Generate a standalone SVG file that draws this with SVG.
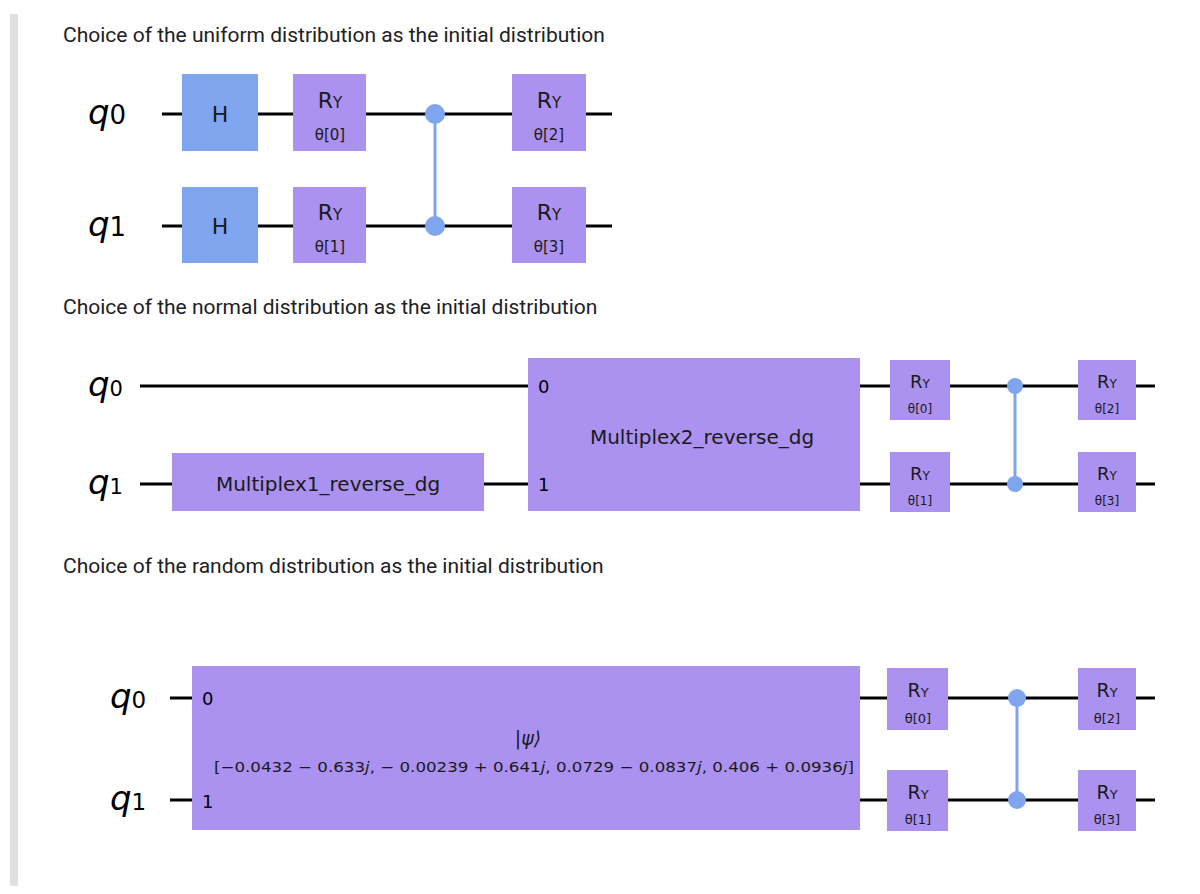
<svg xmlns="http://www.w3.org/2000/svg" width="1200" height="894" viewBox="0 0 1200 894">
<style>
.t{font-family:Roboto,"Liberation Sans",sans-serif;font-size:21px;fill:#202124}
.w{stroke:#000;stroke-width:3;fill:none}
.h{fill:#7fa5ef}
.r{fill:#ab91f0}
.g{font-family:"DejaVu Sans",sans-serif;fill:#1a1a1a;text-anchor:middle}
.q{font-family:"DejaVu Sans",sans-serif;font-style:italic;font-size:34px;fill:#000}
.s{font-family:"DejaVu Sans",sans-serif;font-size:18px;fill:#000}
.c{stroke:#7fa5ef;stroke-width:3}
.d{fill:#7fa5ef}
</style>
<rect x="0" y="0" width="1200" height="894" fill="#fff"/>
<rect x="10" y="14" width="8" height="872" fill="#e0e0e0"/>
<text class="t" x="63" y="42">Choice of the uniform distribution as the initial distribution</text>
<text class="t" x="63" y="314">Choice of the normal distribution as the initial distribution</text>
<text class="t" x="63" y="573">Choice of the random distribution as the initial distribution</text>
<g id="connectors">
<path class="w" d="M162 114H612M162 226H612"/>
<path class="w" d="M140 386H528M140 484H528M860 386H1155M860 484H1155"/>
<path class="w" d="M170 698H192M170 800H192M860 698H1155M860 800H1155"/>
<line class="c" x1="435" y1="114" x2="435" y2="226"/>
<line class="c" x1="1015" y1="386" x2="1015" y2="484"/>
<line class="c" x1="1017" y1="698" x2="1017" y2="800"/>
</g>
<g id="labels">
<text class="q" x="88" y="124">q<tspan font-style="normal" font-size="26">0</tspan></text>
<text class="q" x="88" y="236">q<tspan font-style="normal" font-size="26">1</tspan></text>
<text class="q" x="88" y="396" font-size="28">q<tspan font-style="normal" font-size="21">0</tspan></text>
<text class="q" x="88" y="494" font-size="28">q<tspan font-style="normal" font-size="21">1</tspan></text>
<text class="q" x="110" y="708" font-size="30">q<tspan font-style="normal" font-size="23">0</tspan></text>
<text class="q" x="110" y="810" font-size="30">q<tspan font-style="normal" font-size="23">1</tspan></text>
</g>
<g id="h0"><rect class="h" x="182" y="74" width="76" height="77"/><text class="g" x="220" y="122" font-size="22">H</text></g>
<g id="h1"><rect class="h" x="182" y="187" width="76" height="76"/><text class="g" x="220" y="234" font-size="22">H</text></g>
<g id="ry00"><rect class="r" x="293" y="74" width="73" height="77"/><text class="g" x="330" y="108" font-size="22">R<tspan font-size="15">Y</tspan></text><text class="g" x="330" y="140" font-size="15">θ[0]</text></g>
<g id="ry01"><rect class="r" x="293" y="187" width="73" height="76"/><text class="g" x="330" y="220" font-size="22">R<tspan font-size="15">Y</tspan></text><text class="g" x="330" y="252" font-size="15">θ[1]</text></g>
<g id="cz0"><circle class="d" cx="435" cy="114" r="10"/><circle class="d" cx="435" cy="226" r="10"/></g>
<g id="ry02"><rect class="r" x="512" y="74" width="74" height="77"/><text class="g" x="549" y="108" font-size="22">R<tspan font-size="15">Y</tspan></text><text class="g" x="549" y="140" font-size="15">θ[2]</text></g>
<g id="ry03"><rect class="r" x="512" y="187" width="74" height="76"/><text class="g" x="549" y="220" font-size="22">R<tspan font-size="15">Y</tspan></text><text class="g" x="549" y="252" font-size="15">θ[3]</text></g>
<g id="mux1"><rect class="r" x="172" y="453" width="312" height="58"/><text class="g" x="328" y="491" font-size="20">Multiplex1_reverse_dg</text></g>
<g id="mux2"><rect class="r" x="528" y="358" width="332" height="153"/><text class="s" x="538" y="393">0</text><text class="s" x="538" y="491">1</text><text class="g" x="702" y="444" font-size="20">Multiplex2_reverse_dg</text></g>
<g id="ry10"><rect class="r" x="890" y="360" width="60" height="60"/><text class="g" x="920" y="388" font-size="18">R<tspan font-size="12">Y</tspan></text><text class="g" x="920" y="413" font-size="12">θ[0]</text></g>
<g id="ry11"><rect class="r" x="890" y="452" width="60" height="60"/><text class="g" x="920" y="480" font-size="18">R<tspan font-size="12">Y</tspan></text><text class="g" x="920" y="505" font-size="12">θ[1]</text></g>
<g id="cz1"><circle class="d" cx="1015" cy="386" r="8"/><circle class="d" cx="1015" cy="484" r="8"/></g>
<g id="ry12"><rect class="r" x="1078" y="360" width="58" height="60"/><text class="g" x="1107" y="388" font-size="18">R<tspan font-size="12">Y</tspan></text><text class="g" x="1107" y="413" font-size="12">θ[2]</text></g>
<g id="ry13"><rect class="r" x="1078" y="452" width="58" height="60"/><text class="g" x="1107" y="480" font-size="18">R<tspan font-size="12">Y</tspan></text><text class="g" x="1107" y="505" font-size="12">θ[3]</text></g>
<g id="psi"><rect class="r" x="192" y="666" width="668" height="164"/><text class="s" x="202" y="705" font-size="19">0</text><text class="s" x="202" y="808" font-size="19">1</text><text class="g" x="528" y="745" font-size="19" font-style="italic">|ψ⟩</text><text class="g" x="534" y="772" font-size="13.5" textLength="640" lengthAdjust="spacingAndGlyphs">[−0.0432 − 0.633<tspan font-style="italic">j</tspan>, − 0.00239 + 0.641<tspan font-style="italic">j</tspan>, 0.0729 − 0.0837<tspan font-style="italic">j</tspan>, 0.406 + 0.0936<tspan font-style="italic">j</tspan>]</text></g>
<g id="ry20"><rect class="r" x="887" y="668" width="61" height="62"/><text class="g" x="918" y="697" font-size="19">R<tspan font-size="13">Y</tspan></text><text class="g" x="918" y="723" font-size="13">θ[0]</text></g>
<g id="ry21"><rect class="r" x="887" y="770" width="61" height="61"/><text class="g" x="918" y="799" font-size="19">R<tspan font-size="13">Y</tspan></text><text class="g" x="918" y="824" font-size="13">θ[1]</text></g>
<g id="cz2"><circle class="d" cx="1017" cy="698" r="9"/><circle class="d" cx="1017" cy="800" r="9"/></g>
<g id="ry22"><rect class="r" x="1078" y="668" width="58" height="62"/><text class="g" x="1107" y="697" font-size="19">R<tspan font-size="13">Y</tspan></text><text class="g" x="1107" y="723" font-size="13">θ[2]</text></g>
<g id="ry23"><rect class="r" x="1078" y="770" width="58" height="61"/><text class="g" x="1107" y="799" font-size="19">R<tspan font-size="13">Y</tspan></text><text class="g" x="1107" y="824" font-size="13">θ[3]</text></g>
</svg>
